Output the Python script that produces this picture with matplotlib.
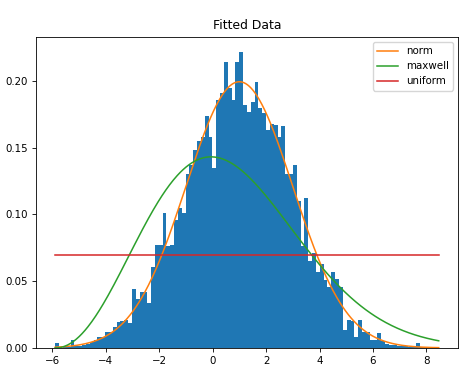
import matplotlib
matplotlib.use("Agg")
import matplotlib.pyplot as plt
import numpy as np

# histogram range and bar heights (density)
data_min = -5.89
data_max = 8.46
density = [
    0.0035, 0.0, 0.0014, 0.0007, 0.006, 0.0014, 0.0014, 0.002, 0.0028, 0.0042,
    0.0056, 0.0085, 0.0085, 0.012, 0.012, 0.016, 0.0195, 0.0205, 0.021, 0.019,
    0.044, 0.037, 0.042, 0.042, 0.034, 0.061, 0.077, 0.077, 0.101, 0.076,
    0.077, 0.096, 0.105, 0.101, 0.130, 0.137, 0.148, 0.155, 0.158, 0.174,
    0.158, 0.135, 0.186, 0.191, 0.214, 0.195, 0.186, 0.214, 0.222, 0.182,
    0.177, 0.184, 0.199, 0.180, 0.176, 0.163, 0.168, 0.167, 0.158, 0.166,
    0.130, 0.130, 0.137, 0.110, 0.076, 0.112, 0.065, 0.071, 0.057, 0.063,
    0.051, 0.046, 0.057, 0.052, 0.046, 0.0135, 0.021, 0.020, 0.0085, 0.021,
    0.012, 0.012, 0.006, 0.006, 0.0115, 0.005, 0.003, 0.002, 0.002, 0.0015,
    0.0015, 0.0015, 0.0007, 0.0007, 0.004, 0.0007, 0.0007, 0.0007, 0.0, 0.0007,
]

# fitted distribution parameters
norm_mu, norm_sigma = 1.0, 2.0
maxwell_loc, maxwell_scale = -5.86, 4.1
uniform_loc, uniform_scale = data_min, data_max - data_min

edges = np.linspace(data_min, data_max, len(density) + 1)
x = np.linspace(data_min, data_max, 400)

norm_pdf = np.exp(-0.5 * ((x - norm_mu) / norm_sigma) ** 2) / (norm_sigma * np.sqrt(2 * np.pi))
t = (x - maxwell_loc) / maxwell_scale
maxwell_pdf = np.sqrt(2 / np.pi) * t ** 2 * np.exp(-t ** 2 / 2) / maxwell_scale
uniform_pdf = np.full_like(x, 1.0 / uniform_scale)

plt.rcParams['font.size'] = 7.4
fig = plt.figure(figsize=(4.74, 3.84), dpi=100)
ax = fig.add_axes([0.076, 0.094, 0.89, 0.81])

ax.bar(edges[:-1], density, width=np.diff(edges), align='edge', color='C0', linewidth=0)
ax.plot(x, norm_pdf, color='C1', lw=1.1, label='norm')
ax.plot(x, maxwell_pdf, color='C2', lw=1.1, label='maxwell')
ax.plot(x, uniform_pdf, color='C3', lw=1.1, label='uniform')

ax.set_xticks(np.arange(-6, 9, 2))
ax.set_yticks(np.arange(0, 0.21, 0.05))
ax.tick_params(labelsize=7.4, length=2.6, width=0.6)
for s in ax.spines.values():
    s.set_linewidth(0.6)
ax.set_title('Fitted Data', fontsize=8.9)
ax.legend(loc='upper right', fontsize=7.4)

fig.savefig('out.png', dpi=100)
